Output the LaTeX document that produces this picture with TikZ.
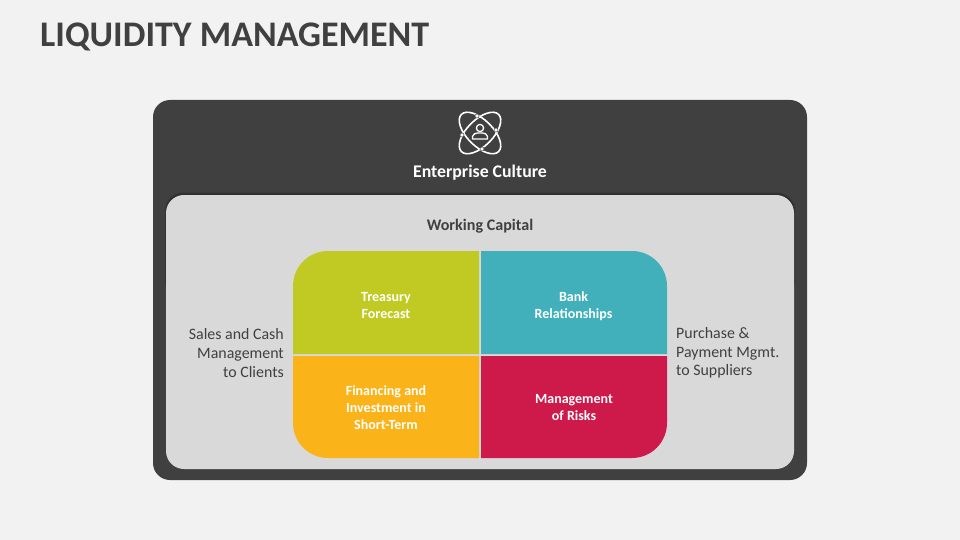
\documentclass[tikz,border=0pt]{standalone}
\usepackage{fontspec}
\setmainfont{Carlito}
\newcommand{\fpx}[1]{\fontsize{#1pt}{#1pt}\selectfont}
\definecolor{bgc}{HTML}{F2F2F2}
\definecolor{darkc}{HTML}{404040}
\definecolor{shadc}{HTML}{2E2E2E}
\definecolor{innerc}{HTML}{D9D9D9}
\definecolor{greenc}{HTML}{C1CA22}
\definecolor{tealc}{HTML}{41B0BB}
\definecolor{amberc}{HTML}{FAB319}
\definecolor{redc}{HTML}{CD1A4A}
\tikzset{
  quadlabel/.style={text=white,font=\fpx{14}\bfseries,align=center,inner sep=0pt},
  sidelabel/.style={text=darkc,font=\fpx{15.9},inner sep=0pt},
  iconline/.style={draw=white,line width=1.6pt},
  icondot/.style={fill=white,draw=darkc,line width=0.5pt},
}
\begin{document}
\begin{tikzpicture}[x=1pt,y=-1pt]
\useasboundingbox (0,0) rectangle (960,540);
\fill[bgc] (0,0) rectangle (960,540);
\node[anchor=base west,inner sep=0pt,text=darkc,font=\fpx{36}\bfseries] (title) at (40,46.5) {LIQUIDITY MANAGEMENT};
% panels
\fill[darkc,rounded corners=17pt] (153,100) rectangle (807,480);
\fill[shadc!60!darkc,rounded corners=18pt] (165,192.5) rectangle (795,300);
\fill[shadc,rounded corners=18pt] (165.5,193.5) rectangle (794.5,300);
\fill[innerc,rounded corners=18pt] (166,195) rectangle (794,469);
% icon
\begin{scope}[shift={(480,133)}]
\draw[iconline,rotate=45] (0,0) ellipse [x radius=26.3,y radius=13];
\draw[iconline,rotate=-45] (0,0) ellipse [x radius=26.3,y radius=13];
\foreach \dx/\dy in {-3/-17,16/-3,-18/2,2/16}
  \filldraw[icondot] (\dx,\dy) circle (2);
\fill[darkc] (0,0) circle (9.5);
\draw[draw=white,line width=1.3pt] (0,-5) circle (3.6);
\draw[draw=white,line width=1.3pt,line join=round] (-7.5,6) -- (-7.5,3.5) .. controls (-7.5,0.5) and (-4,0.5) .. (-2.5,0) -- (2.5,0) .. controls (4,0.5) and (7.5,0.5) .. (7.5,3.5) -- (7.5,6) -- cycle;
\end{scope}
\node[text=white,font=\fpx{17.8}\bfseries,inner sep=0pt,anchor=base] (culture) at (480,178) {Enterprise Culture};
\node[text=darkc,font=\fpx{16.1}\bfseries,inner sep=0pt,anchor=base] (wc) at (480,230) {Working Capital};
% quadrants
\fill[greenc] (293,354) -- (293,286) arc[start angle=180,end angle=270,radius=35] -- (479,251) -- (479,354) -- cycle;
\fill[tealc] (481,251) -- (632,251) arc[start angle=270,end angle=360,radius=35] -- (667,354) -- (481,354) -- cycle;
\fill[amberc] (293,356) -- (479,356) -- (479,458) -- (328,458) arc[start angle=90,end angle=180,radius=35] -- cycle;
\fill[redc] (481,356) -- (667,356) -- (667,423) arc[start angle=0,end angle=90,radius=35] -- (481,458) -- cycle;
\node[quadlabel] (q1) at (386,306) {Treasury\\[3pt]Forecast};
\node[quadlabel] (q2) at (573.5,306) {Bank\\[3pt]Relationships};
\node[quadlabel] (q3) at (386,407.5) {Financing and\\[3pt]Investment in\\[3pt]Short-Term};
\node[quadlabel] (q4) at (574,407.5) {Management\\[3pt]of Risks};
\node[sidelabel,align=right,anchor=east] (left) at (284,353) {Sales and Cash\\[2.7pt]Management\\[2.7pt]to Clients};
\node[sidelabel,align=left,anchor=west] (right) at (676,352.8) {Purchase \&\\[2.7pt]Payment Mgmt.\\[2.7pt]to Suppliers};
\end{tikzpicture}
\end{document}
